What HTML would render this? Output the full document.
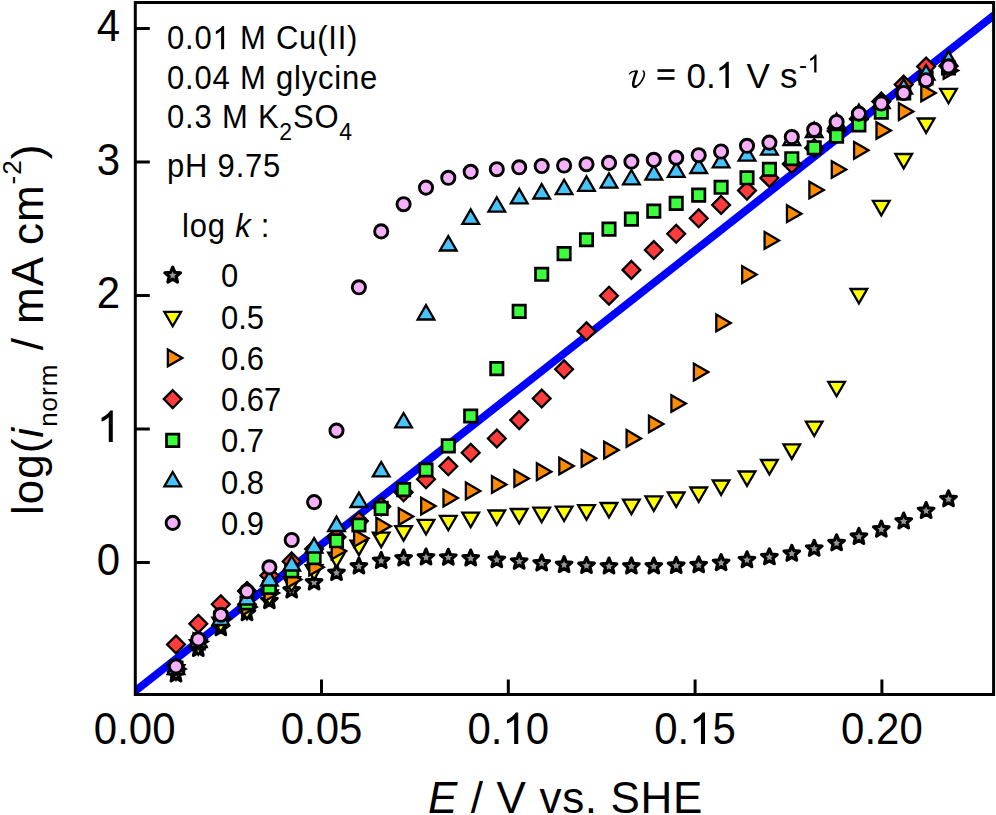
<!DOCTYPE html>
<html><head><meta charset="utf-8"><style>
html,body{margin:0;padding:0;background:#fff;overflow:hidden;}
svg{display:block;}
</style></head><body>
<svg width="996" height="815" viewBox="0 0 996 815">
<defs>
<path id="one" d="M768,0 L570,0 L570,1160 Q490,1085 395,1030 Q300,975 220,955 L220,1130 Q360,1190 470,1285 Q590,1385 647,1472 L768,1472 Z"/>
<path id="mS" d="M0.00,-8.20 L2.17,-2.99 L7.80,-2.53 L3.52,1.14 L4.82,6.63 L0.00,3.70 L-4.82,6.63 L-3.52,1.14 L-7.80,-2.53 L-2.17,-2.99Z" fill="#969696" stroke="#000" stroke-width="3.2" stroke-linejoin="round"/>
<path id="mD" d="M0,9.64 L8.35,-4.82 L-8.35,-4.82Z" fill="#ffff00" stroke="#000" stroke-width="2.3"/>
<path id="mR" d="M9.64,0 L-4.82,8.35 L-4.82,-8.35Z" fill="#ff8c00" stroke="#000" stroke-width="2.3"/>
<path id="mQ" d="M0,-8.9 L8.9,0 L0,8.9 L-8.9,0Z" fill="#ff3c3c" stroke="#000" stroke-width="2.3"/>
<path id="mG" d="M-6.2,-6.2 H6.2 V6.2 H-6.2Z" fill="#3cff3c" stroke="#000" stroke-width="2.7"/>
<path id="mU" d="M0,-9.64 L8.35,4.82 L-8.35,4.82Z" fill="#48c4fc" stroke="#000" stroke-width="2.3"/>
<circle id="mC" r="6.6" fill="#f4b0f8" stroke="#000" stroke-width="2.9"/>
<clipPath id="clip"><rect x="135.3" y="2.5" width="858.3" height="692.0"/></clipPath></defs>
<rect width="996" height="815" fill="#fff"/>
<line x1="130" y1="695.1" x2="1000" y2="10.5" stroke="#0000ff" stroke-width="7.8" clip-path="url(#clip)"/>
<g>
<use href="#mS" x="176.0" y="674.3"/><use href="#mS" x="198.3" y="648.8"/><use href="#mS" x="220.8" y="628.0"/><use href="#mS" x="247.0" y="613.0"/><use href="#mS" x="269.4" y="600.9"/><use href="#mS" x="291.7" y="590.3"/><use href="#mS" x="314.1" y="582.3"/><use href="#mS" x="336.5" y="572.8"/><use href="#mS" x="358.9" y="566.3"/><use href="#mS" x="381.2" y="560.8"/><use href="#mS" x="403.6" y="558.3"/><use href="#mS" x="426.0" y="557.3"/><use href="#mS" x="448.3" y="557.5"/><use href="#mS" x="470.7" y="558.3"/><use href="#mS" x="496.8" y="559.9"/><use href="#mS" x="519.2" y="561.5"/><use href="#mS" x="541.7" y="563.3"/><use href="#mS" x="564.1" y="564.9"/><use href="#mS" x="586.5" y="565.7"/><use href="#mS" x="609.0" y="566.3"/><use href="#mS" x="631.4" y="566.3"/><use href="#mS" x="653.8" y="566.3"/><use href="#mS" x="676.2" y="565.7"/><use href="#mS" x="698.7" y="565.1"/><use href="#mS" x="721.1" y="562.9"/><use href="#mS" x="747.0" y="560.0"/><use href="#mS" x="769.4" y="557.1"/><use href="#mS" x="791.8" y="553.6"/><use href="#mS" x="814.2" y="548.6"/><use href="#mS" x="836.6" y="543.1"/><use href="#mS" x="858.9" y="536.7"/><use href="#mS" x="881.3" y="529.4"/><use href="#mS" x="903.7" y="521.3"/><use href="#mS" x="926.1" y="510.8"/><use href="#mS" x="948.5" y="499.1"/>
<use href="#mD" x="176.0" y="670.0"/><use href="#mD" x="198.3" y="645.0"/><use href="#mD" x="220.8" y="622.5"/><use href="#mD" x="247.0" y="609.5"/><use href="#mD" x="269.4" y="595.3"/><use href="#mD" x="291.7" y="582.0"/><use href="#mD" x="314.1" y="570.0"/><use href="#mD" x="336.5" y="557.5"/><use href="#mD" x="358.9" y="545.5"/><use href="#mD" x="381.2" y="537.5"/><use href="#mD" x="403.6" y="531.0"/><use href="#mD" x="426.0" y="524.7"/><use href="#mD" x="448.3" y="520.6"/><use href="#mD" x="470.7" y="517.5"/><use href="#mD" x="496.8" y="515.3"/><use href="#mD" x="519.2" y="513.8"/><use href="#mD" x="541.7" y="512.5"/><use href="#mD" x="564.1" y="511.4"/><use href="#mD" x="586.5" y="510.0"/><use href="#mD" x="609.0" y="507.8"/><use href="#mD" x="631.4" y="504.5"/><use href="#mD" x="653.8" y="501.2"/><use href="#mD" x="676.2" y="497.3"/><use href="#mD" x="698.7" y="492.3"/><use href="#mD" x="721.1" y="485.3"/><use href="#mD" x="747.0" y="476.3"/><use href="#mD" x="769.4" y="464.8"/><use href="#mD" x="791.8" y="449.2"/><use href="#mD" x="814.2" y="426.4"/><use href="#mD" x="836.6" y="386.6"/><use href="#mD" x="858.9" y="293.8"/><use href="#mD" x="881.3" y="205.7"/><use href="#mD" x="903.7" y="158.8"/><use href="#mD" x="926.1" y="123.3"/><use href="#mD" x="948.5" y="93.6"/>
<use href="#mR" x="176.0" y="669.0"/><use href="#mR" x="198.3" y="641.5"/><use href="#mR" x="220.8" y="619.0"/><use href="#mR" x="247.0" y="607.0"/><use href="#mR" x="269.4" y="593.0"/><use href="#mR" x="291.7" y="579.5"/><use href="#mR" x="314.1" y="567.2"/><use href="#mR" x="336.5" y="551.0"/><use href="#mR" x="358.9" y="538.3"/><use href="#mR" x="381.2" y="526.2"/><use href="#mR" x="403.6" y="516.6"/><use href="#mR" x="426.0" y="506.1"/><use href="#mR" x="448.3" y="498.1"/><use href="#mR" x="470.7" y="490.9"/><use href="#mR" x="496.8" y="484.5"/><use href="#mR" x="519.2" y="478.5"/><use href="#mR" x="541.7" y="471.7"/><use href="#mR" x="564.1" y="466.0"/><use href="#mR" x="586.5" y="458.3"/><use href="#mR" x="609.0" y="450.1"/><use href="#mR" x="631.4" y="438.4"/><use href="#mR" x="653.8" y="424.0"/><use href="#mR" x="676.2" y="403.5"/><use href="#mR" x="698.7" y="372.1"/><use href="#mR" x="721.1" y="322.9"/><use href="#mR" x="747.0" y="274.6"/><use href="#mR" x="769.4" y="240.4"/><use href="#mR" x="791.8" y="213.7"/><use href="#mR" x="814.2" y="190.0"/><use href="#mR" x="836.6" y="169.5"/><use href="#mR" x="858.9" y="150.3"/><use href="#mR" x="881.3" y="130.5"/><use href="#mR" x="903.7" y="111.6"/><use href="#mR" x="926.1" y="93.0"/><use href="#mR" x="948.5" y="70.5"/>
<use href="#mQ" x="176.0" y="644.5"/><use href="#mQ" x="198.3" y="623.8"/><use href="#mQ" x="220.8" y="604.3"/><use href="#mQ" x="247.0" y="591.0"/><use href="#mQ" x="269.4" y="575.5"/><use href="#mQ" x="291.7" y="561.4"/><use href="#mQ" x="314.1" y="549.0"/><use href="#mQ" x="336.5" y="537.0"/><use href="#mQ" x="358.9" y="521.0"/><use href="#mQ" x="381.2" y="506.5"/><use href="#mQ" x="403.6" y="492.3"/><use href="#mQ" x="426.0" y="479.3"/><use href="#mQ" x="448.3" y="466.3"/><use href="#mQ" x="470.7" y="452.8"/><use href="#mQ" x="496.8" y="438.5"/><use href="#mQ" x="519.2" y="420.1"/><use href="#mQ" x="541.7" y="398.5"/><use href="#mQ" x="564.1" y="369.3"/><use href="#mQ" x="586.5" y="331.3"/><use href="#mQ" x="609.0" y="295.7"/><use href="#mQ" x="631.4" y="269.9"/><use href="#mQ" x="653.8" y="250.0"/><use href="#mQ" x="676.2" y="233.8"/><use href="#mQ" x="698.7" y="218.3"/><use href="#mQ" x="721.1" y="204.9"/><use href="#mQ" x="747.0" y="190.6"/><use href="#mQ" x="769.4" y="178.0"/><use href="#mQ" x="791.8" y="164.0"/><use href="#mQ" x="814.2" y="148.0"/><use href="#mQ" x="836.6" y="131.0"/><use href="#mQ" x="858.9" y="118.8"/><use href="#mQ" x="881.3" y="101.5"/><use href="#mQ" x="903.7" y="84.6"/><use href="#mQ" x="926.1" y="66.5"/><use href="#mQ" x="948.5" y="66.0"/>
<use href="#mG" x="176.0" y="668.0"/><use href="#mG" x="198.3" y="643.0"/><use href="#mG" x="220.8" y="618.0"/><use href="#mG" x="247.0" y="603.0"/><use href="#mG" x="269.4" y="587.5"/><use href="#mG" x="291.7" y="571.0"/><use href="#mG" x="314.1" y="557.7"/><use href="#mG" x="336.5" y="540.8"/><use href="#mG" x="358.9" y="525.0"/><use href="#mG" x="381.2" y="508.4"/><use href="#mG" x="403.6" y="489.6"/><use href="#mG" x="426.0" y="470.0"/><use href="#mG" x="448.3" y="445.9"/><use href="#mG" x="470.7" y="416.0"/><use href="#mG" x="496.8" y="368.6"/><use href="#mG" x="519.2" y="311.4"/><use href="#mG" x="541.7" y="274.3"/><use href="#mG" x="564.1" y="253.6"/><use href="#mG" x="586.5" y="239.7"/><use href="#mG" x="609.0" y="229.1"/><use href="#mG" x="631.4" y="219.1"/><use href="#mG" x="653.8" y="211.1"/><use href="#mG" x="676.2" y="203.4"/><use href="#mG" x="698.7" y="195.1"/><use href="#mG" x="721.1" y="187.3"/><use href="#mG" x="747.0" y="177.8"/><use href="#mG" x="769.4" y="169.4"/><use href="#mG" x="791.8" y="158.7"/><use href="#mG" x="814.2" y="147.8"/><use href="#mG" x="836.6" y="136.2"/><use href="#mG" x="858.9" y="125.0"/><use href="#mG" x="881.3" y="112.2"/><use href="#mG" x="903.7" y="93.0"/><use href="#mG" x="926.1" y="78.0"/><use href="#mG" x="948.5" y="68.0"/>
<use href="#mU" x="176.0" y="669.2"/><use href="#mU" x="198.3" y="642.2"/><use href="#mU" x="220.8" y="620.2"/><use href="#mU" x="247.0" y="599.7"/><use href="#mU" x="269.4" y="580.7"/><use href="#mU" x="291.7" y="565.7"/><use href="#mU" x="314.1" y="547.7"/><use href="#mU" x="336.5" y="526.2"/><use href="#mU" x="358.9" y="502.2"/><use href="#mU" x="381.2" y="471.6"/><use href="#mU" x="403.6" y="422.6"/><use href="#mU" x="426.0" y="314.7"/><use href="#mU" x="448.3" y="245.7"/><use href="#mU" x="470.7" y="219.0"/><use href="#mU" x="496.8" y="206.9"/><use href="#mU" x="519.2" y="198.5"/><use href="#mU" x="541.7" y="193.7"/><use href="#mU" x="564.1" y="189.4"/><use href="#mU" x="586.5" y="186.0"/><use href="#mU" x="609.0" y="182.9"/><use href="#mU" x="631.4" y="179.6"/><use href="#mU" x="653.8" y="174.8"/><use href="#mU" x="676.2" y="172.0"/><use href="#mU" x="698.7" y="168.2"/><use href="#mU" x="721.1" y="162.5"/><use href="#mU" x="747.0" y="155.9"/><use href="#mU" x="769.4" y="149.9"/><use href="#mU" x="791.8" y="140.4"/><use href="#mU" x="814.2" y="132.2"/><use href="#mU" x="836.6" y="123.2"/><use href="#mU" x="858.9" y="114.2"/><use href="#mU" x="881.3" y="103.2"/><use href="#mU" x="903.7" y="88.7"/><use href="#mU" x="926.1" y="74.7"/><use href="#mU" x="948.5" y="60.8"/>
<use href="#mC" x="176.0" y="666.4"/><use href="#mC" x="198.3" y="639.4"/><use href="#mC" x="220.8" y="614.8"/><use href="#mC" x="247.0" y="591.3"/><use href="#mC" x="269.4" y="567.3"/><use href="#mC" x="291.7" y="540.0"/><use href="#mC" x="314.1" y="502.1"/><use href="#mC" x="336.5" y="430.6"/><use href="#mC" x="358.9" y="287.3"/><use href="#mC" x="381.2" y="231.4"/><use href="#mC" x="403.6" y="204.2"/><use href="#mC" x="426.0" y="187.6"/><use href="#mC" x="448.3" y="177.8"/><use href="#mC" x="470.7" y="171.8"/><use href="#mC" x="496.8" y="169.2"/><use href="#mC" x="519.2" y="167.3"/><use href="#mC" x="541.7" y="166.0"/><use href="#mC" x="564.1" y="165.5"/><use href="#mC" x="586.5" y="164.2"/><use href="#mC" x="609.0" y="162.9"/><use href="#mC" x="631.4" y="161.6"/><use href="#mC" x="653.8" y="159.8"/><use href="#mC" x="676.2" y="157.7"/><use href="#mC" x="698.7" y="155.2"/><use href="#mC" x="721.1" y="151.5"/><use href="#mC" x="747.0" y="145.8"/><use href="#mC" x="769.4" y="142.6"/><use href="#mC" x="791.8" y="137.0"/><use href="#mC" x="814.2" y="129.8"/><use href="#mC" x="836.6" y="122.0"/><use href="#mC" x="858.9" y="113.6"/><use href="#mC" x="881.3" y="103.5"/><use href="#mC" x="903.7" y="93.0"/><use href="#mC" x="926.1" y="80.2"/><use href="#mC" x="948.5" y="66.3"/>
</g>
<rect x="135.3" y="2.5" width="858.3" height="692.0" fill="none" stroke="#000" stroke-width="3"/>
<line x1="321.5" y1="694.5" x2="321.5" y2="679.5" stroke="#000" stroke-width="3"/><line x1="508.3" y1="694.5" x2="508.3" y2="679.5" stroke="#000" stroke-width="3"/><line x1="695.1" y1="694.5" x2="695.1" y2="679.5" stroke="#000" stroke-width="3"/><line x1="881.9" y1="694.5" x2="881.9" y2="679.5" stroke="#000" stroke-width="3"/><line x1="135.3" y1="562.5" x2="149.8" y2="562.5" stroke="#000" stroke-width="3"/><line x1="135.3" y1="429.0" x2="149.8" y2="429.0" stroke="#000" stroke-width="3"/><line x1="135.3" y1="295.5" x2="149.8" y2="295.5" stroke="#000" stroke-width="3"/><line x1="135.3" y1="162.0" x2="149.8" y2="162.0" stroke="#000" stroke-width="3"/><line x1="135.3" y1="28.5" x2="149.8" y2="28.5" stroke="#000" stroke-width="3"/>
<g font-family="Liberation Sans, sans-serif" fill="#000"><text x="120" y="575.5" font-size="42" text-anchor="end" transform="matrix(1 0 0 1.045 0 -25.897)">0</text><text x="120" y="308.5" font-size="42" text-anchor="end" transform="matrix(1 0 0 1.045 0 -13.882)">2</text><text x="120" y="175.0" font-size="42" text-anchor="end" transform="matrix(1 0 0 1.045 0 -7.875)">3</text><text x="120" y="41.5" font-size="42" text-anchor="end" transform="matrix(1 0 0 1.045 0 -1.867)">4</text><text x="134.7" y="744" font-size="42" text-anchor="middle" transform="matrix(1 0 0 1.045 0 -33.480)">0.00</text><text x="321.5" y="744" font-size="42" text-anchor="middle" transform="matrix(1 0 0 1.045 0 -33.480)">0.05</text><text x="508.3" y="744" font-size="42" text-anchor="middle" transform="matrix(1 0 0 1.045 0 -33.480)">0.&#x2007;0</text><text x="695.1" y="744" font-size="42" text-anchor="middle" transform="matrix(1 0 0 1.045 0 -33.480)">0.&#x2007;5</text><text x="881.9" y="744" font-size="42" text-anchor="middle" transform="matrix(1 0 0 1.045 0 -33.480)">0.20</text><text x="428" y="813" font-size="44" letter-spacing="0.65"><tspan font-style="italic">E</tspan> / V vs. SHE</text><text transform="translate(43.2,515) rotate(-90)" font-size="44" letter-spacing="1.0">log(<tspan font-style="italic">i</tspan><tspan font-size="26" dy="14">norm</tspan><tspan dy="-14"> / mA cm</tspan><tspan font-size="26" dy="-22.6">-2</tspan><tspan dy="22.6">)</tspan></text><text x="167" y="49.2" font-size="31" letter-spacing="0.8" transform="matrix(1 0 0 1.045 0 -2.214)">0.0&#x2007; M Cu(II)</text><text x="167" y="88.6" font-size="31" letter-spacing="0.8" transform="matrix(1 0 0 1.045 0 -3.987)">0.04 M glycine</text><text x="167" y="128" font-size="31" letter-spacing="0.8" transform="matrix(1 0 0 1.045 0 -5.760)">0.3 M K<tspan font-size="23" dy="11.5">2</tspan><tspan dy="-11.5">SO</tspan><tspan font-size="23" dy="11.5">4</tspan></text><text x="167" y="177" font-size="31" letter-spacing="0.8" transform="matrix(1 0 0 1.045 0 -7.965)">pH 9.75</text><text x="182" y="236.9" font-size="31" letter-spacing="0.8" transform="matrix(1 0 0 1.045 0 -10.660)">log <tspan font-style="italic">k</tspan> :</text><text x="686.5" y="88" font-size="35">0.&#x2007;</text><text x="746.5" y="88" font-size="35">V</text><text x="780" y="88" font-size="35">s</text><text x="799" y="72.5" font-size="24" letter-spacing="0.5">-</text><text x="221" y="287.4" font-size="31" transform="matrix(1 0 0 1.045 0 -12.933)">0</text><text x="221" y="328.6" font-size="31" transform="matrix(1 0 0 1.045 0 -14.789)">0.5</text><text x="221" y="369.9" font-size="31" transform="matrix(1 0 0 1.045 0 -16.645)">0.6</text><text x="221" y="411.1" font-size="31" transform="matrix(1 0 0 1.045 0 -18.502)">0.67</text><text x="221" y="452.4" font-size="31" transform="matrix(1 0 0 1.045 0 -20.358)">0.7</text><text x="221" y="493.6" font-size="31" transform="matrix(1 0 0 1.045 0 -22.214)">0.8</text><text x="221" y="534.9" font-size="31" transform="matrix(1 0 0 1.045 0 -24.070)">0.9</text></g>
<use href="#one" transform="translate(97.05,442.00) scale(0.020508,-0.021431)"/><use href="#one" transform="translate(502.46,744.00) scale(0.020508,-0.021431)"/><use href="#one" transform="translate(689.26,744.00) scale(0.020508,-0.021431)"/><use href="#one" transform="translate(212.49,49.20) scale(0.015137,-0.015818)"/><use href="#one" transform="translate(715.69,88.00) scale(0.017090,-0.017859)"/><use href="#one" transform="translate(807.49,72.50) scale(0.011719,-0.012246)"/>
<use href="#mS" x="172.7" y="275.4"/><use href="#mD" x="172.7" y="316.6"/><use href="#mR" x="172.7" y="357.9"/><use href="#mQ" x="172.7" y="399.1"/><use href="#mG" x="172.7" y="440.4"/><use href="#mU" x="172.7" y="481.6"/><use href="#mC" x="172.7" y="522.9"/>
<g fill="none" stroke="#000" stroke-linecap="round">
<path d="M629.4,74.0 C630.8,72.0 633.8,70.9 637.0,71.3" stroke-width="1.3"/>
<path d="M636.6,71.6 C635.2,75.6 633.4,80.4 633.2,84.2 C633.1,86.4 634.3,87.1 635.8,86.5" stroke-width="2.6"/>
<path d="M635.8,86.5 C638.6,85.3 641.6,81.6 643.3,77.8 C644.6,74.9 644.8,72.4 643.2,71.0" stroke-width="1.6"/>
</g>
<rect x="657.5" y="69.2" width="17" height="2.7" fill="#000"/><rect x="657.5" y="77.1" width="17" height="2.7" fill="#000"/>
</svg>
</body></html>
